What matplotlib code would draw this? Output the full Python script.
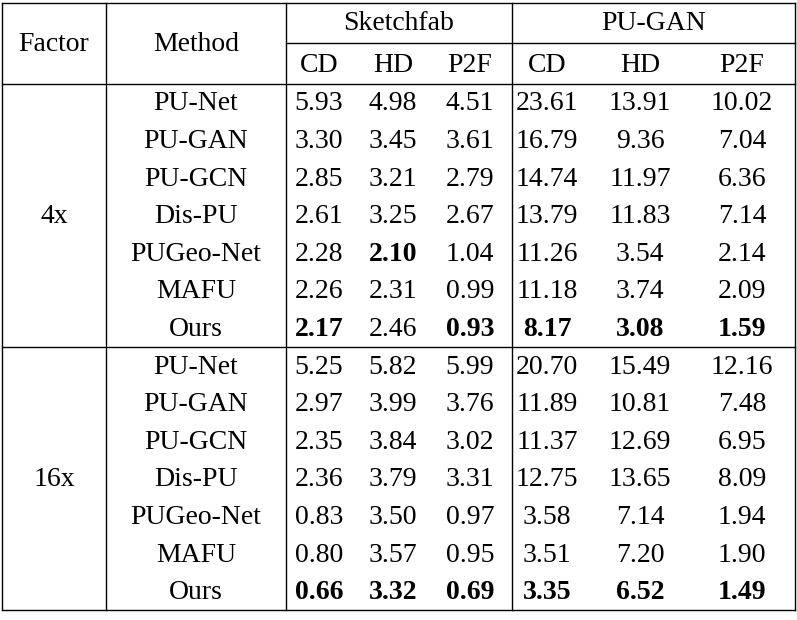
import matplotlib
matplotlib.use("Agg")
import matplotlib.pyplot as plt

factors = ["4x", "16x"]
methods = ["PU-Net", "PU-GAN", "PU-GCN", "Dis-PU", "PUGeo-Net", "MAFU", "Ours"]
datasets = ["Sketchfab", "PU-GAN"]
metrics = ["CD", "HD", "P2F"]
vals_4x = [
    ["5.93", "4.98", "4.51", "23.61", "13.91", "10.02"],
    ["3.30", "3.45", "3.61", "16.79", "9.36", "7.04"],
    ["2.85", "3.21", "2.79", "14.74", "11.97", "6.36"],
    ["2.61", "3.25", "2.67", "13.79", "11.83", "7.14"],
    ["2.28", "2.10", "1.04", "11.26", "3.54", "2.14"],
    ["2.26", "2.31", "0.99", "11.18", "3.74", "2.09"],
    ["2.17", "2.46", "0.93", "8.17", "3.08", "1.59"],
]
vals_16x = [
    ["5.25", "5.82", "5.99", "20.70", "15.49", "12.16"],
    ["2.97", "3.99", "3.76", "11.89", "10.81", "7.48"],
    ["2.35", "3.84", "3.02", "11.37", "12.69", "6.95"],
    ["2.36", "3.79", "3.31", "12.75", "13.65", "8.09"],
    ["0.83", "3.50", "0.97", "3.58", "7.14", "1.94"],
    ["0.80", "3.57", "0.95", "3.51", "7.20", "1.90"],
    ["0.66", "3.32", "0.69", "3.35", "6.52", "1.49"],
]

W, H = 797, 620
fig = plt.figure(figsize=(W / 100, H / 100), dpi=100)
ax = fig.add_axes([0, 0, 1, 1])
ax.set_xlim(0, W)
ax.set_ylim(H, 0)
ax.axis("off")
FONT = dict(family="Liberation Serif", fontsize=20, ha="center", va="center")
lw = 1.0

xl, xf, xm, xs, xr = 2, 106, 286, 512, 795
y0, y1, y2 = 3, 43, 84
rh = 37.6
yb1 = y2 + 7 * rh
yb2 = yb1 + 7 * rh

for x in (xl, xf, xm, xs, xr):
    ax.plot([x, x], [y0, yb2], color="black", lw=lw)
for y in (y0, y2, yb1, yb2):
    ax.plot([xl, xr], [y, y], color="black", lw=lw)
ax.plot([xm, xr], [y1, y1], color="black", lw=lw)

ax.text((xl + xf) / 2, (y0 + y2) / 2 + 1, "Factor", **FONT)
ax.text((xf + xm) / 2, (y0 + y2) / 2 + 1, "Method", **FONT)
ax.text((xm + xs) / 2, (y0 + y1) / 2 + 1, datasets[0], **FONT)
ax.text((xs + xr) / 2, (y0 + y1) / 2 + 1, datasets[1], **FONT)
colx = [319, 393, 470, 547, 640, 742]
for i, m in enumerate(metrics * 2):
    ax.text(colx[i], (y1 + y2) / 2 + 2, m, **FONT)

for b, (fac, vals) in enumerate(zip(factors, [vals_4x, vals_16x])):
    top = y2 + b * 7 * rh
    ax.text((xl + xf) / 2, top + 3.5 * rh + 1, fac, **FONT)
    mins = [min(float(r[c]) for r in vals) for c in range(6)]
    for r, (meth, row) in enumerate(zip(methods, vals)):
        yc = top + (r + 0.5) * rh + 1
        ax.text((xf + xm) / 2, yc, meth, **FONT)
        for c, v in enumerate(row):
            ax.text(colx[c], yc, v, fontweight="bold" if float(v) == mins[c] else "normal", **FONT)

fig.savefig("out.png", dpi=100)
